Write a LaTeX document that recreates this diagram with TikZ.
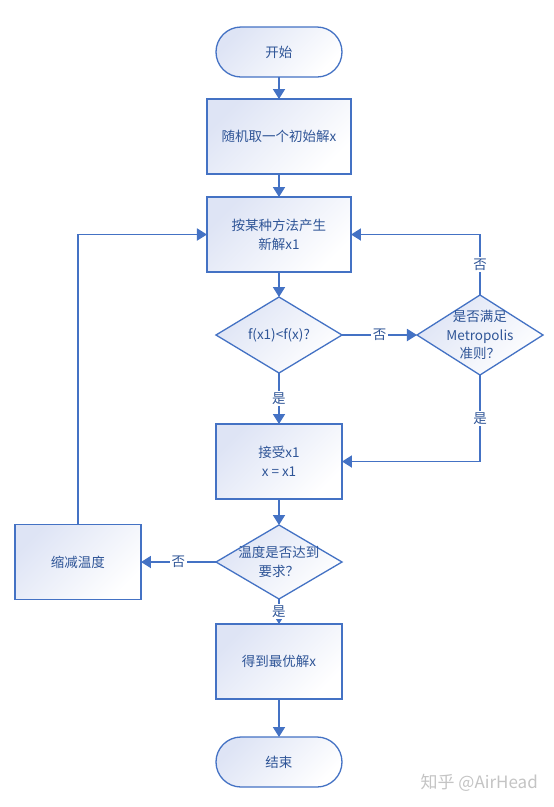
\documentclass[tikz,border=0pt]{standalone}
\usepackage{fontspec}
\newfontfamily\cjk{Noto Sans CJK SC}
\usetikzlibrary{positioning,arrows.meta,shapes.geometric}
\definecolor{FlowBlue}{RGB}{68,114,196}
\definecolor{TextBlue}{RGB}{47,85,151}
\definecolor{BoxTint}{RGB}{222,228,245}
\definecolor{MarkGray}{RGB}{196,196,196}
\tikzset{
  flow/.style={-{Triangle[length=10pt,width=12pt]},line width=1.8pt,draw=FlowBlue},
  box/.style={draw=FlowBlue,line width=1.3pt,top color=BoxTint,bottom color=white,
    shading angle=45,minimum width=126pt,minimum height=75pt,inner sep=0pt,
    outer sep=0pt,align=center,text=TextBlue,font=\cjk\fontsize{13.5}{19}\selectfont},
  terminal/.style={box,rounded corners=25pt,minimum height=50pt},
  decision/.style={box,diamond,minimum height=76pt},
  dtext/.style={align=center,text=TextBlue,inner sep=0pt,
    font=\cjk\fontsize{13.5}{18.5}\selectfont},
  edgelabel/.style={fill=white,inner sep=1.5pt,text=TextBlue,
    font=\cjk\fontsize{13.5}{16}\selectfont},
  wmark/.style={text=MarkGray,inner sep=0pt,font=\cjk\fontsize{17}{20}\selectfont}
}
\begin{document}
\begin{tikzpicture}[x=1pt,y=1pt,node distance=25pt]
  \useasboundingbox[fill=white] (-279,52) rectangle (275,-755);

  \node[terminal] (start) {开始};
  \node[box,below=22pt of start,minimum width=144pt] (init) {随机取一个初始解x};
  \node[box,below=23pt of init,minimum width=144pt] (newsol) {按某种方法产生\\新解x1};
  \node[decision,below=of newsol,label={[dtext]center:{f(x1)<f(x)?}}] (cmp) {};
  \node[decision,right=75pt of cmp,minimum height=80pt,
    label={[dtext]center:{是否满足\\Metropolis\\准则？}}] (metro) {};
  \node[box,below=51pt of cmp] (accept) {接受x1\\x = x1};
  \node[decision,below=26pt of accept,minimum height=74pt,
    label={[dtext]center:{温度是否达到\\要求？}}] (check) {};
  \node[box,left=75pt of check] (cool) {缩减温度};
  \node[box,below=of check] (best) {得到最优解x};
  \node[terminal,below=38pt of best] (stop) {结束};
  \node[wmark,anchor=east] (wm) at (259,-731) {知乎 @AirHead};

  \draw[flow] (start) -- (init);
  \draw[flow] (init) -- (newsol);
  \draw[flow] (newsol) -- (cmp);
  \draw[flow] (cmp) -- node[edgelabel] {是} (accept);
  \draw[flow] (cmp) -- node[edgelabel] {否} (metro);
  \draw[flow] (metro) |- node[edgelabel,pos=0.25] {否} (newsol);
  \draw[flow] (metro) |- node[edgelabel,pos=0.25] {是} (accept);
  \draw[flow] (accept) -- (check);
  \draw[flow] (check) -- node[edgelabel] {是} (best);
  \draw[flow] (check) -- node[edgelabel] {否} (cool);
  \draw[flow] (cool) |- (newsol);
  \draw[flow] (best) -- (stop);
\end{tikzpicture}
\end{document}
